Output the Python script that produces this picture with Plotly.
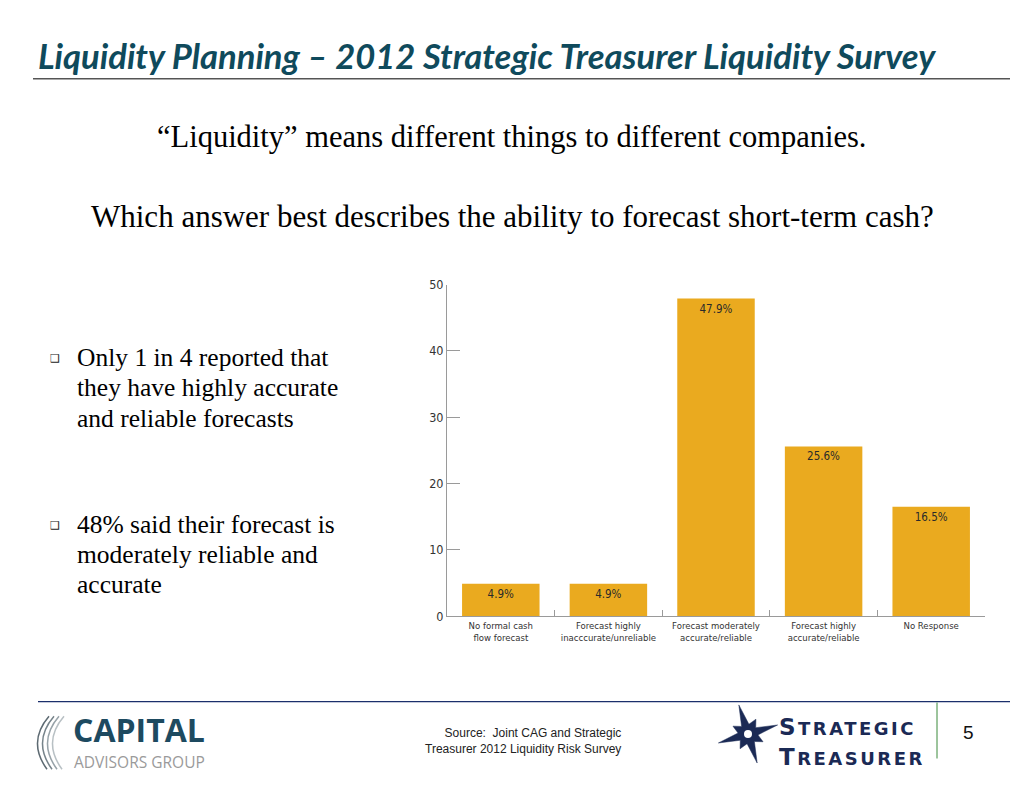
import plotly.graph_objects as go
import math

categories = ["No formal cash<br>flow forecast", "Forecast highly<br>inacccurate/unreliable",
              "Forecast moderately<br>accurate/reliable", "Forecast highly<br>accurate/reliable",
              "No Response"]
values = [4.9, 4.9, 47.9, 25.6, 16.5]
labels = ["4.9%", "4.9%", "47.9%", "25.6%", "16.5%"]
y_ticks = [0, 10, 20, 30, 40, 50]

W, H = 1024, 791
def px(x): return x / W
def py(y): return 1 - y / H

fig = go.Figure()
fig.add_trace(go.Bar(
    x=categories, y=values, text=labels, texttemplate="%{text}",
    textposition="inside", insidetextanchor="end", textangle=0,
    constraintext="none",
    textfont=dict(family="DejaVu Sans Condensed, Roboto", size=11.5, color="#2a2a2a"),
    marker=dict(color="#EAAA1F", line=dict(width=0)),
    hoverinfo="skip",
))

fig.update_layout(
    width=W, height=H, margin=dict(l=0, r=0, t=0, b=0),
    paper_bgcolor="white", plot_bgcolor="white", showlegend=False,
    bargap=0.28,
    xaxis=dict(domain=[px(447), px(985)], showline=True, linecolor="#9a9a9a", linewidth=1,
               ticks="inside", tickson="boundaries", ticklen=6, tickcolor="#9a9a9a",
               tickfont=dict(family="DejaVu Sans Condensed, Roboto", size=9.5, color="#333"),
               showgrid=False, zeroline=False, fixedrange=True, ticklabelstandoff=0),
    yaxis=dict(domain=[py(620), py(282)], range=[0, 50], showline=True, linecolor="#9a9a9a",
               linewidth=1, ticks="inside", ticklen=13, tickcolor="#9a9a9a",
               tickvals=y_ticks, ticktext=[str(v) for v in y_ticks],
               tickfont=dict(family="DejaVu Sans Condensed, Roboto", size=12.5, color="#333"),
               showgrid=False, zeroline=False, fixedrange=True),
)

ann = []
def T(x, y, text, size, color="#000", family="Liberation Serif", xanchor="left", yanchor="middle", **kw):
    ann.append(dict(x=px(x), y=py(y), xref="paper", yref="paper", text=text, showarrow=False,
                    xanchor=xanchor, yanchor=yanchor,
                    font=dict(size=size, color=color, family=family), **kw))

# Title
T(36, 48, "<b><i>Liquidity Planning – 2012 Strategic Treasurer Liquidity Survey</i></b>", 34.6,
  color="#0f4a5c", family="Lato")
# Subtitles
T(512, 132, "“Liquidity” means different things to different companies.", 30.5, xanchor="center")
T(512, 213, "Which answer best describes the ability to forecast short-term cash?", 31, xanchor="center")

# Bullets
bul1 = ["Only 1 in 4 reported that", "they have highly accurate", "and reliable forecasts"]
bul2 = ["48% said their forecast is", "moderately reliable and", "accurate"]
for i, s in enumerate(bul1):
    T(75, 356 + 31 * i, s, 25.5)
for i, s in enumerate(bul2):
    T(75, 526 + 31 * i, s, 25.5)
T(55, 357, "❑", 11, color="#222", family="DejaVu Sans", xanchor="center")
T(55, 527, "❑", 11, color="#222", family="DejaVu Sans", xanchor="center")

# Footer
T(623, 747, "Source:  Joint CAG and Strategic<br>Treasurer 2012 Liquidity Risk Survey", 12,
  color="#222", family="Liberation Sans", xanchor="right", align="right")
T(968, 738, "5", 19, color="#111", family="Liberation Sans", xanchor="center")
T(71, 735, "<b>CAPITAL</b>", 32, color="#1d4a60", family="Open Sans")
T(72, 769, "ADVISORS GROUP", 15.5, color="#9a9a9a", family="Open Sans")
T(777, 748, "<b><span style='letter-spacing:2.5px'><span style='font-size:23px'>S</span>TRATEGIC</span></b>", 18,
  color="#1b2a55", family="DejaVu Sans", yanchor="bottom")
T(777, 748, "<b><span style='letter-spacing:2.5px'><span style='font-size:23px'>T</span>REASURER</span></b>", 18,
  color="#1b2a55", family="DejaVu Sans", yanchor="top")

fig.update_layout(annotations=ann)

shapes = []
shapes.append(dict(type="line", xref="paper", yref="paper", x0=px(33), x1=px(1010), y0=py(72), y1=py(72),
                   line=dict(color="#555", width=1.5)))
shapes.append(dict(type="line", xref="paper", yref="paper", x0=px(38), x1=px(1010), y0=py(707), y1=py(707),
                   line=dict(color="#1b2f6b", width=1.2)))
shapes.append(dict(type="line", xref="paper", yref="paper", x0=px(937), x1=px(937), y0=py(708), y1=py(765),
                   line=dict(color="#3a8a3a", width=1)))
# Capital logo arcs
for cx, col in [(48, "#b8c0c4"), (43, "#97a2a8"), (38, "#76838a"), (33, "#5d6a72")]:
    shapes.append(dict(type="path", xref="paper", yref="paper",
                       path=f"M {px(cx+16)} {py(722)} Q {px(cx-6)} {py(748)} {px(cx+14)} {py(776)}",
                       line=dict(color=col, width=1.5)))
# compass star
cx, cy = 748, 740
pts = []
for i in range(16):
    ang = math.pi / 2 + i * math.pi / 8 + 0.3
    r = 31 if i % 4 == 0 else (17 if i % 2 == 0 else 10)
    pts.append((cx + r * math.cos(ang), cy - r * math.sin(ang)))
path = "M " + " L ".join(f"{px(x)} {py(y)}" for x, y in pts) + " Z"
shapes.append(dict(type="path", xref="paper", yref="paper", path=path,
                   fillcolor="#1b2a55", line=dict(color="#1b2a55", width=0.5)))
shapes.append(dict(type="circle", xref="paper", yref="paper", x0=px(cx-4), x1=px(cx+4), y0=py(cy+4), y1=py(cy-4),
                   fillcolor="white", line=dict(width=0)))
fig.update_layout(shapes=shapes)

fig.write_html("out.html")
